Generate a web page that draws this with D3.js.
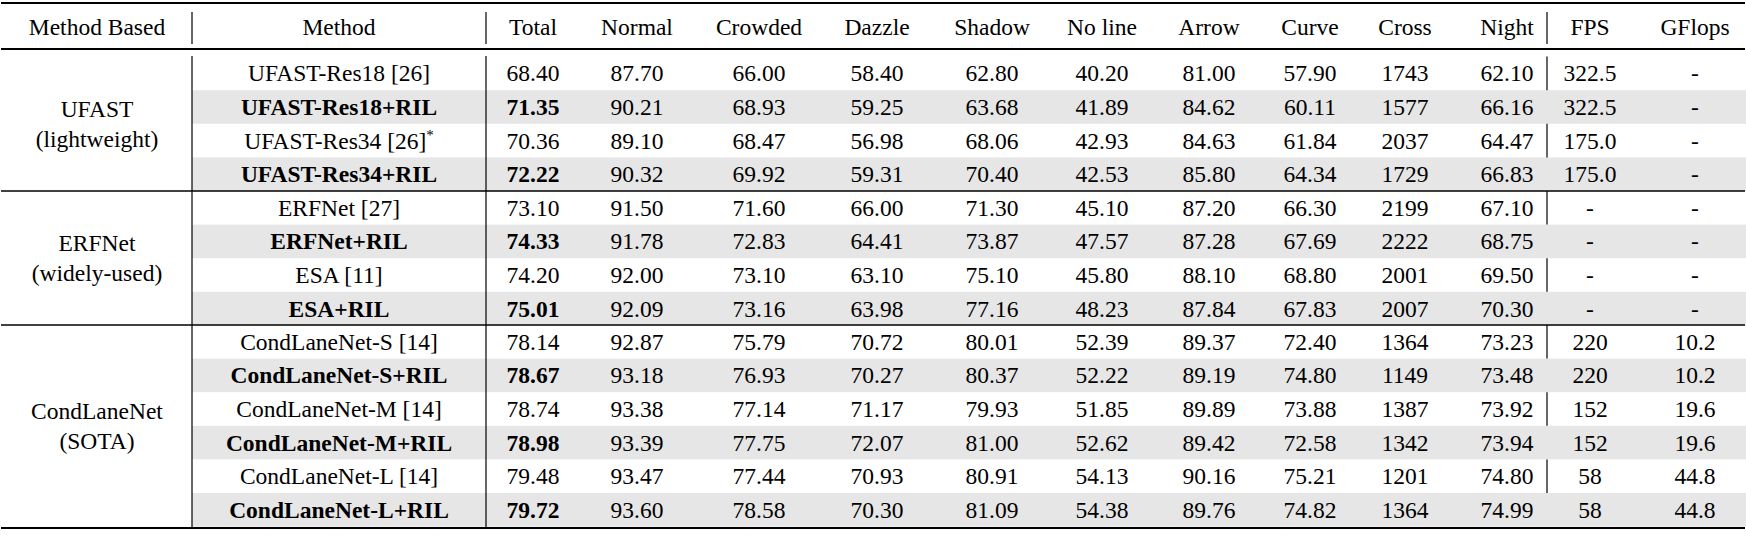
<!DOCTYPE html><html><head><meta charset="utf-8">
<script src="https://cdn.jsdelivr.net/npm/d3@7"></script>
<style>body{margin:0;background:#fff}</style></head><body><svg id="c" width="1746" height="536"></svg>
<script>
const headers=["Method Based","Method","Total","Normal","Crowded","Dazzle","Shadow","No line","Arrow","Curve","Cross","Night","FPS","GFlops"];
const groups=[["UFAST","(lightweight)"],["ERFNet","(widely-used)"],["CondLaneNet","(SOTA)"]];
const groupSizes=[4,4,6];
const methods=["UFAST-Res18 [26]","UFAST-Res18+RIL","UFAST-Res34 [26]*","UFAST-Res34+RIL","ERFNet [27]","ERFNet+RIL","ESA [11]","ESA+RIL","CondLaneNet-S [14]","CondLaneNet-S+RIL","CondLaneNet-M [14]","CondLaneNet-M+RIL","CondLaneNet-L [14]","CondLaneNet-L+RIL"];
const values=[
["68.40","87.70","66.00","58.40","62.80","40.20","81.00","57.90","1743","62.10","322.5","-"],
["71.35","90.21","68.93","59.25","63.68","41.89","84.62","60.11","1577","66.16","322.5","-"],
["70.36","89.10","68.47","56.98","68.06","42.93","84.63","61.84","2037","64.47","175.0","-"],
["72.22","90.32","69.92","59.31","70.40","42.53","85.80","64.34","1729","66.83","175.0","-"],
["73.10","91.50","71.60","66.00","71.30","45.10","87.20","66.30","2199","67.10","-","-"],
["74.33","91.78","72.83","64.41","73.87","47.57","87.28","67.69","2222","68.75","-","-"],
["74.20","92.00","73.10","63.10","75.10","45.80","88.10","68.80","2001","69.50","-","-"],
["75.01","92.09","73.16","63.98","77.16","48.23","87.84","67.83","2007","70.30","-","-"],
["78.14","92.87","75.79","70.72","80.01","52.39","89.37","72.40","1364","73.23","220","10.2"],
["78.67","93.18","76.93","70.27","80.37","52.22","89.19","74.80","1149","73.48","220","10.2"],
["78.74","93.38","77.14","71.17","79.93","51.85","89.89","73.88","1387","73.92","152","19.6"],
["78.98","93.39","77.75","72.07","81.00","52.62","89.42","72.58","1342","73.94","152","19.6"],
["79.48","93.47","77.44","70.93","80.91","54.13","90.16","75.21","1201","74.80","58","44.8"],
["79.72","93.60","78.58","70.30","81.09","54.38","89.76","74.82","1364","74.99","58","44.8"]];
const colX=[97,339,533,637,759,877,992,1102,1209,1310,1405,1507,1590,1695];
const svg=d3.select("#c"),F="'Liberation Serif','DejaVu Serif',serif",FS=23.5;
const rowH=33.6, gStart=[56.6,191,325];
const rowY=[];groupSizes.forEach((n,g)=>{for(let i=0;i<n;i++)rowY.push(gStart[g]+i*rowH);});
const x=d3.scaleOrdinal().domain(headers).range(colX);
rowY.forEach((y,i)=>{if(i%2==1)svg.append("rect").attr("x",192).attr("y",y).attr("width",1746-192).attr("height",rowH).attr("fill","#e6e6e6");});
const hl=(y,w)=>svg.append("line").attr("x1",1).attr("x2",1745).attr("y1",y).attr("y2",y).attr("stroke","#000").attr("stroke-width",w);
hl(3,2.2);hl(49,2.2);hl(191,1.4);hl(325,1.4);hl(528,2.2);
const vl=(xx,y1,y2)=>svg.append("line").attr("x1",xx).attr("x2",xx).attr("y1",y1).attr("y2",y2).attr("stroke","#000").attr("stroke-width",1.2);
[192,486,1547].forEach(xx=>vl(xx,12,44));
vl(192,56,527);vl(486,56,527);
rowY.forEach((y,i)=>{if(i%2==0)vl(1547,y,y+rowH);});
headers.forEach(h=>svg.append("text").attr("x",x(h)).attr("y",35).attr("text-anchor","middle").attr("font-family",F).attr("font-size",FS).text(h));
groups.forEach((g,gi)=>{const cy=gStart[gi]+groupSizes[gi]*rowH/2;
 g.forEach((t,k)=>svg.append("text").attr("x",x(headers[0])).attr("y",cy-7+k*30).attr("text-anchor","middle").attr("font-family",F).attr("font-size",FS).text(t));});
rowY.forEach((y,i)=>{const bold=i%2==1;const by=y+rowH/2+8;
 const m=methods[i];const star=m.endsWith("*");
 const t=svg.append("text").attr("x",x(headers[1])).attr("y",by).attr("text-anchor","middle").attr("font-family",F).attr("font-size",FS).attr("font-weight",bold?"bold":null);
 t.append("tspan").text(star?m.slice(0,-1):m);
 if(star)t.append("tspan").attr("dy",-9).attr("font-size",15).text("*");
 values[i].forEach((v,j)=>svg.append("text").attr("x",x(headers[j+2])).attr("y",by).attr("text-anchor","middle").attr("font-family",F).attr("font-size",FS).attr("font-weight",bold&&j==0?"bold":null).text(v));});
</script></body></html>
